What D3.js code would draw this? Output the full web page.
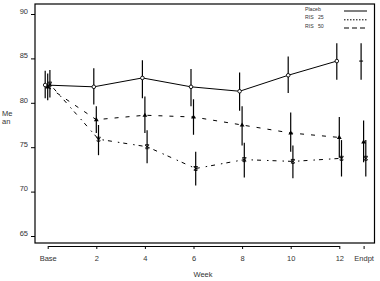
<!DOCTYPE html>
<html><head><meta charset="utf-8">
<script src="https://cdn.jsdelivr.net/npm/d3@7"></script>
<style>
html,body{margin:0;padding:0;background:#fff;}
svg{display:block;font-family:"Liberation Sans",Arial,sans-serif;}
</style></head>
<body>
<script>
// ---- data ----
const weekLabels = ["Base","2","4","6","8","10","12","Endpt"];
const weekPos = [0,2,4,6,8,10,12,13];
const yTicks = [65,70,75,80,85,90];
const seriesNames = ["Placeb","RIS   25","RIS   50"];

const placeboMean = [82.0,81.8,82.8,81.8,81.3,83.1,84.7,84.7];
const placeboLo   = [80.5,79.8,80.5,79.6,79.1,81.1,82.6,82.6];
const placeboHi   = [83.6,83.9,84.8,83.8,83.4,85.2,86.7,86.7];

const ris25Mean = [82.1,75.9,75.05,72.6,73.6,73.4,73.75,73.75];
const ris25Lo   = [80.6,74.1,73.2,70.7,71.6,71.5,71.7,71.7];
const ris25Hi   = [83.7,77.5,76.9,74.5,75.5,75.2,75.8,75.8];

const ris50Mean = [81.8,78.1,78.6,78.4,77.5,76.6,76.1,75.6];
const ris50Lo   = [80.3,76.6,76.6,76.4,75.2,74.5,73.8,73.3];
const ris50Hi   = [83.3,79.6,80.7,80.4,79.6,78.9,78.4,78.0];

// ---- drawing ----
const W=380,H=281;
const svg=d3.select("body").append("svg").attr("width",W).attr("height",H);

const x=d3.scaleLinear().domain([0,12]).range([47.7,339.3]);
const y=d3.scaleLinear().domain([65,90]).range([236,14]);

const frame={l:35,r:374.5,t:4,b:243};
svg.append("rect").attr("x",frame.l).attr("y",frame.t)
  .attr("width",frame.r-frame.l).attr("height",frame.b-frame.t)
  .attr("fill","none").attr("stroke","#000").attr("stroke-width",1.2);

// y axis
const yAxis=d3.axisLeft(y).tickValues(yTicks).tickSize(4).tickPadding(3).tickSizeOuter(0);
const gy=svg.append("g").attr("transform",`translate(${frame.l},0)`).call(yAxis);
gy.select(".domain").remove();
gy.selectAll("text").attr("font-size",7.5).attr("fill","#333").attr("dy","-0.1em");

// x axis
const xAxis=d3.axisBottom(x).tickValues(weekPos).tickFormat((d,i)=>weekLabels[i]).tickSize(3).tickPadding(7).tickSizeOuter(0);
const gx=svg.append("g").attr("transform",`translate(0,246)`).call(xAxis);
gx.selectAll("text").attr("font-size",7.5).attr("fill","#333");
gx.select(".domain").attr("stroke-width",1.2);

svg.append("text").attr("x",203).attr("y",277).attr("text-anchor","middle")
  .attr("font-size",7.5).attr("fill","#333").text("Week");
svg.append("text").attr("x",2).attr("y",115.5).attr("font-size",7.5).attr("fill","#333").text("Me");
svg.append("text").attr("x",2).attr("y",124).attr("font-size",7.5).attr("fill","#333").text("an");

const series=[
 {name:seriesNames[0],mean:placeboMean,lo:placeboLo,hi:placeboHi,off:-2.5,dash:null,marker:"circle"},
 {name:seriesNames[1],mean:ris25Mean,lo:ris25Lo,hi:ris25Hi,off:2.2,dash:"1.5,4,4,6",marker:"x"},
 {name:seriesNames[2],mean:ris50Mean,lo:ris50Lo,hi:ris50Hi,off:0,dash:"4,7",marker:"tri"}
];

const line=d3.line().x(d=>d[0]).y(d=>d[1]);
series.forEach(s=>{
  const pts=weekPos.map((w,i)=>[x(w)+s.off,y(s.mean[i])]);
  // line through Base..12 (not to Endpt)
  svg.append("path").attr("d",line(pts.slice(0,7))).attr("fill","none")
    .attr("stroke","#000").attr("stroke-width",1)
    .attr("stroke-dasharray",s.dash);
  // error bars
  weekPos.forEach((w,i)=>{
    svg.append("line").attr("x1",x(w)+s.off).attr("x2",x(w)+s.off)
      .attr("y1",y(s.lo[i])).attr("y2",y(s.hi[i]))
      .attr("stroke","#000").attr("stroke-width",1.2);
  });
  // markers
  pts.forEach((p,i)=>{
    const g=svg.append("g").attr("transform",`translate(${p[0]},${p[1]})`);
    if(s.marker==="circle"){
      if(i===7){
        g.append("path").attr("d","M-2,0H2").attr("stroke","#000");
      } else {
        g.append("circle").attr("r",1.8).attr("fill","#fff").attr("stroke","#000").attr("stroke-width",0.9);
      }
    } else if(s.marker==="tri"){
      g.append("path").attr("d","M0,-2.6L2.4,1.6H-2.4Z").attr("fill","#000");
    } else {
      g.append("path").attr("d","M-2,-2H2M-2,-1.5L2,1.5M2,-1.5L-2,1.5M-1.5,2H1.5")
        .attr("stroke","#000").attr("stroke-width",0.9).attr("fill","none");
    }
  });
});

// legend
const lg=[{t:"Placeb",y:8.5,dash:null},{t:"RIS   25",y:17.3,dash:"1.5,1.5"},{t:"RIS   50",y:25.5,dash:"5,3"}];
lg.forEach(d=>{
  svg.append("text").attr("x",305).attr("y",d.y+2).attr("font-size",5.2)
    .attr("fill","#333").attr("xml:space","preserve").style("white-space","pre").text(d.t);
  svg.append("line").attr("x1",344).attr("x2",367).attr("y1",d.y+2.5).attr("y2",d.y+2.5)
    .attr("stroke","#000").attr("stroke-width",1).attr("stroke-dasharray",d.dash);
});
</script>
</body></html>
